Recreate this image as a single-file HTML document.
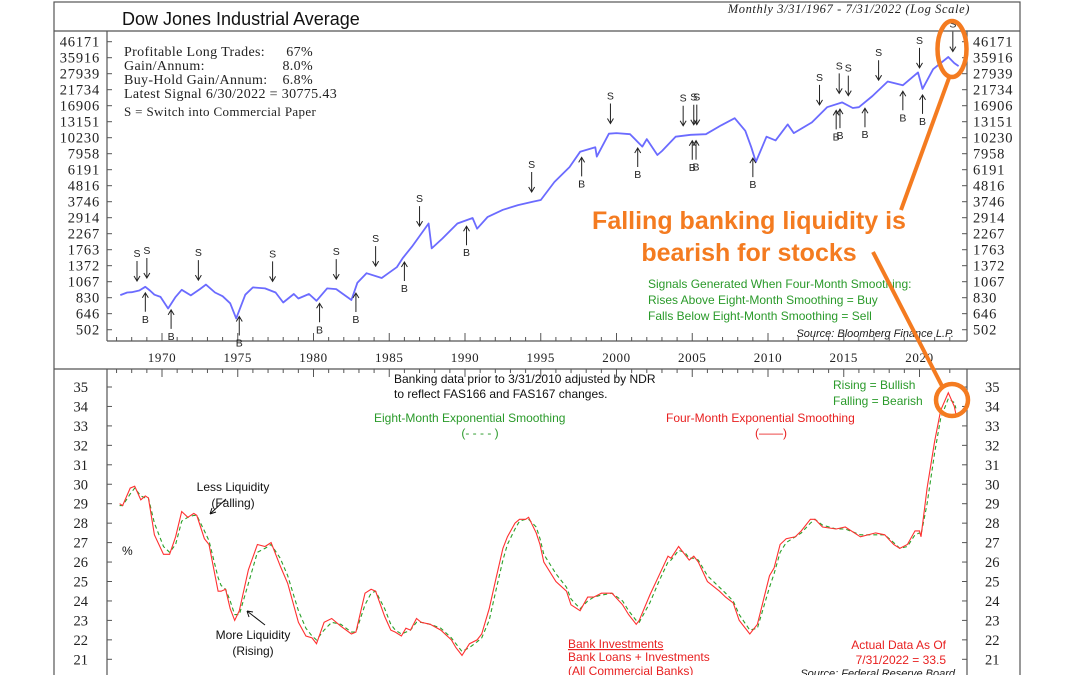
<!DOCTYPE html>
<html><head><meta charset="utf-8"><style>
html,body{margin:0;padding:0;background:#fff;}
svg{display:block;}
.serif{font-family:"Liberation Serif",serif;}
.sans{font-family:"Liberation Sans",sans-serif;}
</style></head><body>
<svg id="chart" width="1080" height="675" viewBox="0 0 1080 675" xmlns="http://www.w3.org/2000/svg">
<rect x="0" y="0" width="1080" height="675" fill="#fff"/>
<g id="frame" fill="none" stroke="#555" stroke-width="1.2">
<rect x="54" y="2" width="966" height="690"/>
<line x1="54" y1="31" x2="1020" y2="31"/>
<line x1="107" y1="31" x2="107" y2="341"/>
<line x1="967" y1="31" x2="967" y2="341"/>
<line x1="107" y1="341" x2="967" y2="341"/>
<line x1="54" y1="369" x2="1020" y2="369"/>
<line x1="107" y1="369" x2="107" y2="675"/>
<line x1="967" y1="369" x2="967" y2="675"/>
</g>
<text x="122" y="25" class="sans" font-size="18" fill="#111">Dow Jones Industrial Average</text>
<text x="970" y="13" class="serif" font-size="12.5" font-style="italic" text-anchor="end" fill="#222" letter-spacing="0.6">Monthly 3/31/1967 - 7/31/2022 (Log Scale)</text>
<g class="serif" font-size="14" fill="#222" letter-spacing="0.35">
<text x="124" y="56">Profitable Long Trades:</text><text x="313" y="56" text-anchor="end">67%</text>
<text x="124" y="70">Gain/Annum:</text><text x="313" y="70" text-anchor="end">8.0%</text>
<text x="124" y="84">Buy-Hold Gain/Annum:</text><text x="313" y="84" text-anchor="end">6.8%</text>
<text x="124" y="98">Latest Signal 6/30/2022 = 30775.43</text>
<text x="124" y="116" font-size="13">S =  Switch into Commercial Paper</text>
</g>
<g class="sans" font-size="12" fill="#2a9a2a">
<text x="648" y="288">Signals Generated When Four-Month Smoothing:</text>
<text x="648" y="304">Rises Above Eight-Month Smoothing = Buy</text>
<text x="648" y="320">Falls Below Eight-Month Smoothing = Sell</text>
</g>
<text x="954" y="337" class="sans" font-size="11" font-style="italic" text-anchor="end" fill="#222">Source: Bloomberg Finance L.P.</text>
<g class="sans" font-size="12" fill="#111">
<text x="394" y="383">Banking data prior to 3/31/2010 adjusted by NDR</text>
<text x="394" y="398">to reflect FAS166 and FAS167 changes.</text>
</g>
<g class="sans" font-size="12">
<text x="374" y="422" fill="#2a9a2a">Eight-Month Exponential Smoothing</text>
<text x="480" y="437" fill="#2a9a2a" text-anchor="middle">(- - - - )</text>
<text x="666" y="422" fill="#e82020">Four-Month Exponential Smoothing</text>
<text x="771" y="437" fill="#e82020" text-anchor="middle">(——)</text>
<text x="833" y="389" fill="#2a9a2a">Rising = Bullish</text>
<text x="833" y="405" fill="#2a9a2a">Falling = Bearish</text>
</g>
<g class="sans" font-size="12" fill="#111">
<text x="233" y="491" text-anchor="middle">Less Liquidity</text>
<text x="233" y="507" text-anchor="middle">(Falling)</text>
<path d="M226 499 L210 514 M210 514 L212 508 M210 514 L216 512" stroke="#111" fill="none"/>
<text x="253" y="639" text-anchor="middle">More Liquidity</text>
<text x="253" y="655" text-anchor="middle">(Rising)</text>
<path d="M265 625 L247 611 M247 611 L253 612 M247 611 L249 617" stroke="#111" fill="none"/>
<text x="122" y="555">%</text>
</g>
<g class="sans" font-size="12" fill="#e82020">
<text x="568" y="648" text-decoration="underline">Bank Investments</text>
<text x="568" y="661">Bank Loans + Investments</text>
<text x="568" y="675">(All Commercial Banks)</text>
<text x="946" y="649" text-anchor="end">Actual Data As Of</text>
<text x="946" y="664" text-anchor="end">7/31/2022 = 33.5</text>
</g>
<text x="955" y="677" class="sans" font-size="11" font-style="italic" text-anchor="end" fill="#222">Source: Federal Reserve Board</text>
<g id="dyn"></g>
<g>
<ellipse cx="952" cy="49" rx="14.5" ry="28" fill="none" stroke="#f47b20" stroke-width="4.5"/>
<line x1="949" y1="78" x2="901" y2="210" stroke="#f47b20" stroke-width="4"/>
<line x1="873" y1="252" x2="942" y2="386" stroke="#f47b20" stroke-width="4"/>
<ellipse cx="952" cy="400" rx="16" ry="16" fill="none" stroke="#f47b20" stroke-width="4.5"/>
<text x="749" y="229" class="sans" font-size="25" font-weight="bold" fill="#f47b20" text-anchor="middle">Falling banking liquidity is</text>
<text x="749" y="261" class="sans" font-size="25" font-weight="bold" fill="#f47b20" text-anchor="middle">bearish for stocks</text>
</g>
</svg>
<script>
const djYears=[1967.25,1967.7,1968.0,1968.5,1968.9,1969.2,1969.5,1969.9,1970.4,1970.9,1971.3,1971.9,1972.5,1972.9,1973.5,1974.0,1974.5,1974.9,1975.5,1976.0,1976.8,1977.5,1978.0,1978.7,1979.0,1979.7,1980.2,1980.9,1981.5,1982.5,1982.9,1983.5,1984.5,1984.9,1985.5,1985.9,1986.5,1987.6,1987.8,1988.5,1989.5,1990.5,1990.8,1991.5,1992.5,1993.5,1994.5,1995.0,1995.9,1996.9,1997.6,1998.6,1998.7,1999.5,2000.0,2000.9,2001.7,2002.0,2002.7,2003.0,2003.9,2004.9,2005.9,2006.9,2007.8,2008.5,2008.9,2009.2,2009.9,2010.5,2011.3,2011.7,2012.9,2013.9,2014.9,2015.6,2016.0,2016.9,2017.9,2018.9,2019.9,2020.2,2020.9,2021.9,2022.3,2022.58];
const djValues=[865,900,905,930,985,930,870,840,700,840,940,860,950,1020,900,850,760,600,870,975,960,900,770,880,820,880,790,960,950,800,1050,1220,1130,1210,1340,1550,1850,2660,1800,2100,2660,2900,2450,2950,3300,3550,3750,3850,5100,6450,8200,8800,7600,10900,11000,10800,8900,10000,7800,8300,10400,10700,10800,12400,13900,11400,8800,7000,10400,9800,12600,11000,13000,16500,17800,16300,16500,19700,24700,23300,28500,22000,30000,36300,33000,31500];
const sellYears=[1968.35,1969.0,1972.4,1977.3,1981.5,1984.1,1987.0,1994.4,1999.6,2004.4,2005.1,2005.3,2013.4,2014.7,2015.3,2017.3,2020.0,2022.2];
const buyYears=[1968.9,1970.6,1975.1,1980.4,1982.8,1986.0,1990.1,1997.7,2001.4,2005.0,2005.25,2009.0,2014.5,2014.75,2016.4,2018.9,2020.2];
const djTicks=[46171,35916,27939,21734,16906,13151,10230,7958,6191,4816,3746,2914,2267,1763,1372,1067,830,646,502];
const yearLabels=[1970,1975,1980,1985,1990,1995,2000,2005,2010,2015,2020];
const liqYears=[1967.2,1967.4,1967.9,1968.2,1968.6,1968.9,1969.1,1969.5,1970.1,1970.5,1970.9,1971.3,1971.7,1972.1,1972.3,1972.8,1973.1,1973.7,1973.9,1974.2,1974.5,1974.8,1975.1,1975.7,1976.3,1976.8,1977.2,1977.8,1978.3,1979.0,1979.5,1979.9,1980.2,1980.7,1981.2,1981.8,1982.5,1982.8,1983.4,1983.8,1984.1,1984.7,1985.1,1985.4,1985.8,1986.1,1986.4,1986.8,1987.1,1987.7,1988.4,1989.1,1989.4,1989.8,1990.3,1990.8,1991.1,1991.6,1992.0,1992.5,1992.8,1993.3,1993.6,1994.0,1994.2,1994.7,1994.95,1995.2,1996.0,1996.7,1997.0,1997.6,1998.1,1998.5,1999.0,1999.7,2000.4,2000.8,2001.3,2001.5,2002.2,2002.8,2003.4,2003.6,2004.1,2004.5,2004.8,2005.1,2005.4,2006.0,2006.8,2007.2,2007.7,2008.1,2008.8,2009.3,2010.1,2010.4,2010.8,2011.2,2011.8,2012.2,2012.8,2013.1,2013.6,2014.5,2015.1,2016.1,2017.1,2017.7,2018.3,2018.7,2019.2,2019.7,2020.0,2020.1,2020.5,2021.0,2021.4,2021.9,2022.3,2022.4];
const fourMonth=[29.0,28.9,29.8,29.9,29.2,29.4,29.3,27.4,26.4,26.4,27.3,28.6,28.3,28.5,28.4,27.2,26.9,24.5,24.5,24.6,23.6,23.0,23.5,25.6,26.9,26.8,27.0,25.8,24.9,22.9,22.2,22.1,21.8,22.9,23.1,22.7,22.3,22.4,24.4,24.6,24.5,23.2,22.5,22.4,22.2,22.6,22.5,23.1,22.9,22.8,22.5,22.0,21.6,21.2,21.8,22.0,22.3,23.6,25.0,26.7,27.3,28.0,28.2,28.2,28.3,27.5,26.9,26.0,25.0,24.5,23.8,23.5,24.2,24.2,24.4,24.4,23.8,23.3,22.8,23.0,24.3,25.3,26.3,26.2,26.8,26.4,26.1,26.3,26.0,25.0,24.5,24.2,23.9,23.0,22.3,22.8,25.3,25.7,26.9,27.2,27.3,27.6,28.2,28.2,27.8,27.7,27.8,27.3,27.5,27.4,26.9,26.7,26.9,27.6,27.6,27.3,29.8,32.2,33.8,34.7,34.0,33.6];
const eightMonth=[28.9,28.9,29.5,29.8,29.4,29.3,29.3,28.0,26.8,26.5,26.9,28.1,28.3,28.4,28.4,27.6,27.1,25.2,24.8,24.6,24.0,23.3,23.3,24.9,26.5,26.7,26.9,26.2,25.3,23.5,22.6,22.2,22.0,22.5,22.9,22.8,22.4,22.4,23.8,24.4,24.5,23.6,22.8,22.5,22.3,22.4,22.5,22.9,22.9,22.8,22.6,22.1,21.8,21.4,21.6,21.9,22.1,23.0,24.4,26.1,26.9,27.7,28.1,28.2,28.2,27.8,27.2,26.4,25.4,24.7,24.1,23.6,24.0,24.2,24.3,24.4,24.0,23.5,23.0,22.9,23.9,25.0,26.0,26.1,26.6,26.5,26.2,26.2,26.1,25.3,24.7,24.4,24.0,23.3,22.5,22.6,24.7,25.4,26.5,27.0,27.3,27.5,28.0,28.2,27.9,27.7,27.7,27.4,27.4,27.4,27.0,26.7,26.8,27.4,27.5,27.4,29.0,31.6,33.4,34.4,34.2,33.9];
const liqTicks=[35,34,33,32,31,30,29,28,27,26,25,24,23,22,21];

const NS='http://www.w3.org/2000/svg';
const dyn=document.getElementById('dyn');
function xOf(yr){return 162+(yr-1970)*15.15;}
function yDj(v){return 41.7+Math.log(46171/v)/Math.log(46171/35916)*16;}
function yLiq(v){return 387+(35-v)*19.45;}
function mk(tag,attrs,parent){const e=document.createElementNS(NS,tag);for(const k in attrs)e.setAttribute(k,attrs[k]);(parent||dyn).appendChild(e);return e;}
function djAt(yr){for(let i=1;i<djYears.length;i++){if(djYears[i]>=yr){const t=(yr-djYears[i-1])/(djYears[i]-djYears[i-1]);return Math.exp(Math.log(djValues[i-1])*(1-t)+Math.log(djValues[i])*t);}}return djValues[djValues.length-1];}

const gTop=mk('g',{'font-family':'Liberation Serif, serif','font-size':'14.5',fill:'#222'});


djTicks.forEach(v=>{const y=yDj(v);
 const t1=mk('text',{x:100,y:y+5,'text-anchor':'end','letter-spacing':'0.8'},gTop);t1.textContent=v;
 
 
 const t2=mk('text',{x:973,y:y+5,'letter-spacing':'0.8'},gTop);t2.textContent=v;
 
 
 mk('line',{x1:107,x2:112,y1:y,y2:y,stroke:'#555'},gTop);
 mk('line',{x1:962,x2:967,y1:y,y2:y,stroke:'#555'},gTop);
});
const gX=mk('g',{'font-family':'Liberation Serif, serif','font-size':'13',fill:'#222'});


for(let yr=1967;yr<=2022;yr++){const x=xOf(yr);const big=yr%5===0;
 mk('line',{x1:x,x2:x,y1:341,y2:big?333:337,stroke:'#555'},gX);
 mk('line',{x1:x,x2:x,y1:369,y2:big?377:373,stroke:'#555'},gX);}
yearLabels.forEach(yr=>{const t=mk('text',{x:xOf(yr),y:362,'text-anchor':'middle','letter-spacing':'0.6'},gX);t.textContent=yr;
 
 });
const gB=mk('g',{'font-family':'Liberation Serif, serif','font-size':'14.5',fill:'#222'});


liqTicks.forEach(v=>{const y=yLiq(v);
 const t1=mk('text',{x:88,y:y+5,'text-anchor':'end'},gB);t1.textContent=v;
 
 
 const t2=mk('text',{x:985,y:y+5},gB);t2.textContent=v;
 
 
 mk('line',{x1:107,x2:112,y1:y,y2:y,stroke:'#555'},gB);
 mk('line',{x1:962,x2:967,y1:y,y2:y,stroke:'#555'},gB);
});
const dj=mk('path',{d:djYears.map((yr,i)=>(i?'L':'M')+xOf(yr).toFixed(1)+' '+yDj(djValues[i]).toFixed(1)).join(' '),fill:'none',stroke:'#6b6bff','stroke-width':'1.8','stroke-linejoin':'round'});


const gS=mk('g',{'font-family':'Liberation Sans, sans-serif','font-size':'10.5',fill:'#222'});


sellYears.forEach(yr=>{const x=xOf(yr),y=yDj(djAt(yr));
 const t=mk('text',{x:x,y:y-34,'text-anchor':'middle'},gS);t.textContent='S';
 
 
 mk('path',{d:`M${x} ${y-30} L${x} ${y-10} M${x-3} ${y-15} L${x} ${y-10} L${x+3} ${y-15}`,stroke:'#222',fill:'none'},gS);});
buyYears.forEach(yr=>{const x=xOf(yr),y=yDj(djAt(yr));
 const t=mk('text',{x:x,y:y+36,'text-anchor':'middle'},gS);t.textContent='B';
 
 
 mk('path',{d:`M${x} ${y+25} L${x} ${y+6} M${x-3} ${y+11} L${x} ${y+6} L${x+3} ${y+11}`,stroke:'#222',fill:'none'},gS);});
const g8=mk('path',{d:liqYears.map((yr,i)=>(i?'L':'M')+xOf(yr).toFixed(1)+' '+yLiq(eightMonth[i]).toFixed(1)).join(' '),fill:'none',stroke:'#2aa02a','stroke-width':'1.1','stroke-dasharray':'4 3'});


const g4=mk('path',{d:liqYears.map((yr,i)=>(i?'L':'M')+xOf(yr).toFixed(1)+' '+yLiq(fourMonth[i]).toFixed(1)).join(' '),fill:'none',stroke:'#ff3030','stroke-width':'1.1'});


</script>
</body></html>
